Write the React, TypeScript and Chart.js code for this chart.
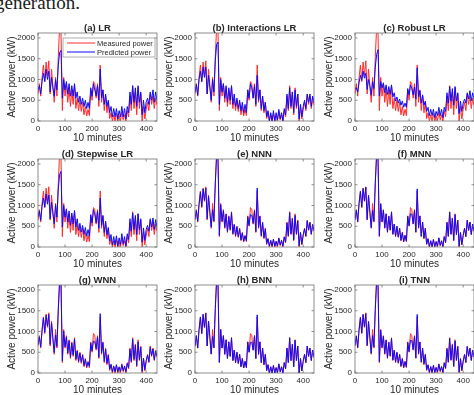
import React, { useEffect, useRef } from "react";
import { Chart, registerables } from "chart.js";

Chart.register(...registerables);

// ---------- data (10-minute index, sampled every 5 steps) ----------
const minutes = [
  0, 5, 10, 15, 20, 25, 30, 35, 40, 45,
  50, 55, 60, 65, 70, 75, 80, 85, 90, 95,
  100, 105, 110, 115, 120, 125, 130, 135, 140, 145,
  150, 155, 160, 165, 170, 175, 180, 185, 190, 195,
  200, 205, 210, 215, 220, 225, 230, 235, 240, 245,
  250, 255, 260, 265, 270, 275, 280, 285, 290, 295,
  300, 305, 310, 315, 320, 325, 330, 335, 340, 345,
  350, 355, 360, 365, 370, 375, 380, 385, 390, 395,
  400, 405, 410, 415, 420, 425, 430, 435, 440,
];

const measuredPower = [
  650, 900, 600, 1050, 1350, 950, 1420, 1100, 1450, 650,
  1250, 850, 450, 1050, 600, 1550, 2250, 2200, 250, 1050,
  600, 900, 450, 800, 350, 750, 400, 850, 300, 550,
  250, 500, 230, 450, 150, 350, 120, 280, 130, 750,
  500, 950, 900, 550, 900, 350, 1350, 450, 750, 250,
  600, 200, 450, 60, 200, 0, 150, 0, 180, 0,
  130, 10, 220, 30, 150, 0, 250, 100, 600, 250,
  850, 300, 700, 150, 800, 300, 650, 0, 350, 50,
  280, 450, 250, 650, 400, 600, 300, 550, 380,
];

const predLR = [
  750, 850, 650, 950, 1150, 950, 1250, 1000, 1200, 700,
  1050, 800, 600, 1000, 750, 1350, 1650, 1700, 550, 1000,
  750, 950, 650, 900, 600, 850, 600, 900, 550, 700,
  450, 600, 400, 550, 350, 500, 300, 450, 300, 800,
  600, 900, 750, 600, 850, 500, 1250, 550, 750, 400,
  650, 350, 500, 200, 350, 100, 300, 100, 300, 50,
  250, 100, 350, 100, 300, 50, 350, 200, 700, 400,
  850, 450, 800, 350, 850, 450, 700, 150, 500, 200,
  450, 550, 400, 700, 500, 750, 450, 700, 500,
];

const predInteractionsLR = [
  700, 880, 620, 1000, 1200, 950, 1300, 1050, 1300, 650,
  1100, 800, 500, 1000, 700, 1450, 1850, 1900, 400, 1000,
  700, 900, 550, 850, 450, 800, 500, 850, 400, 650,
  350, 550, 300, 500, 250, 450, 200, 400, 200, 750,
  550, 900, 800, 550, 850, 400, 1100, 500, 750, 300,
  600, 250, 450, 100, 250, 0, 200, 0, 250, 0,
  200, 30, 280, 50, 200, 0, 300, 150, 650, 300,
  800, 350, 700, 200, 750, 350, 650, 50, 400, 100,
  350, 500, 300, 650, 450, 650, 350, 600, 450,
];

const predRobustLR = [
  780, 800, 700, 920, 1100, 980, 1200, 1030, 1150, 760,
  1000, 850, 620, 950, 780, 1300, 1600, 1720, 600, 950,
  800, 920, 680, 870, 640, 830, 640, 870, 580, 680,
  480, 580, 430, 530, 380, 480, 330, 430, 330, 780,
  630, 870, 780, 630, 820, 530, 1280, 580, 730, 430,
  630, 380, 480, 230, 330, 130, 280, 130, 280, 80,
  230, 130, 330, 130, 280, 80, 330, 230, 680, 430,
  830, 480, 780, 380, 830, 480, 680, 180, 480, 230,
  430, 530, 430, 680, 530, 730, 480, 680, 530,
];

const predStepwiseLR = [
  720, 870, 640, 980, 1180, 960, 1280, 1030, 1250, 680,
  1080, 820, 560, 1020, 720, 1400, 1750, 1820, 480, 1000,
  720, 920, 600, 870, 520, 820, 560, 880, 480, 680,
  400, 570, 360, 520, 300, 470, 260, 420, 260, 780,
  580, 900, 780, 580, 860, 450, 1180, 520, 760, 350,
  620, 300, 470, 150, 300, 50, 250, 50, 270, 20,
  220, 60, 320, 80, 250, 20, 320, 180, 680, 380,
  820, 420, 760, 300, 800, 420, 680, 120, 460, 160,
  420, 520, 380, 680, 480, 700, 420, 660, 480,
];

const predNNN = [
  670, 880, 620, 1020, 1320, 970, 1400, 1120, 1420, 680,
  1220, 830, 480, 900, 630, 1520, 2230, 2180, 280, 1020,
  620, 880, 470, 790, 370, 730, 420, 830, 320, 540,
  270, 490, 250, 440, 170, 340, 140, 270, 150, 730,
  520, 780, 760, 570, 880, 370, 1420, 470, 740, 270,
  590, 220, 440, 80, 200, 20, 160, 20, 190, 20,
  140, 30, 210, 50, 160, 20, 240, 120, 580, 270,
  830, 320, 680, 170, 760, 310, 630, 30, 350, 70,
  290, 440, 260, 630, 410, 590, 310, 540, 390,
];

const predMNN = [
  660, 890, 610, 1040, 1340, 960, 1410, 1110, 1440, 660,
  1240, 840, 470, 880, 620, 1540, 2240, 2190, 270, 1040,
  610, 890, 460, 800, 360, 740, 410, 840, 310, 550,
  260, 500, 240, 450, 160, 350, 130, 280, 140, 740,
  510, 800, 790, 560, 890, 360, 1400, 460, 750, 260,
  600, 210, 450, 70, 200, 10, 150, 10, 180, 10,
  130, 20, 220, 40, 150, 10, 250, 110, 590, 260,
  840, 310, 690, 160, 780, 300, 640, 20, 350, 60,
  280, 450, 250, 640, 400, 600, 300, 550, 380,
];

const predWNN = [
  680, 870, 630, 1010, 1330, 980, 1390, 1130, 1410, 690,
  1210, 820, 490, 920, 640, 1510, 2220, 2200, 290, 1010,
  630, 870, 480, 780, 380, 720, 430, 820, 330, 530,
  280, 480, 260, 430, 180, 330, 150, 260, 160, 720,
  530, 770, 750, 580, 870, 380, 1430, 480, 730, 280,
  580, 230, 430, 90, 210, 30, 170, 30, 200, 30,
  150, 40, 200, 60, 170, 30, 230, 130, 570, 280,
  820, 330, 670, 180, 750, 320, 620, 40, 360, 80,
  300, 430, 270, 620, 420, 580, 320, 530, 400,
];

const predBNN = [
  640, 900, 600, 1040, 1350, 950, 1410, 1100, 1440, 650,
  1250, 850, 460, 880, 610, 1550, 2250, 2200, 260, 1050,
  600, 900, 450, 800, 350, 750, 400, 850, 300, 550,
  250, 500, 230, 450, 150, 350, 120, 280, 130, 750,
  500, 740, 740, 550, 900, 350, 1400, 450, 750, 250,
  600, 200, 450, 60, 200, 0, 150, 0, 180, 0,
  130, 10, 220, 30, 150, 0, 250, 100, 600, 250,
  850, 300, 690, 150, 790, 300, 650, 0, 350, 50,
  280, 450, 250, 650, 400, 600, 300, 550, 380,
];

const predTNN = [
  665, 885, 615, 1030, 1335, 965, 1405, 1115, 1430, 665,
  1235, 835, 475, 900, 625, 1530, 2235, 2190, 275, 1035,
  615, 885, 465, 795, 365, 735, 415, 835, 315, 545,
  265, 495, 245, 445, 165, 345, 135, 275, 145, 735,
  515, 790, 780, 565, 885, 365, 1410, 465, 745, 265,
  595, 215, 445, 75, 195, 15, 155, 15, 185, 15,
  135, 25, 215, 45, 155, 15, 245, 115, 585, 265,
  835, 315, 680, 165, 770, 305, 635, 25, 345, 65,
  285, 445, 255, 635, 405, 595, 305, 545, 385,
];

const panelTitles = [
  "(a) LR", "(b) Interactions LR", "(c) Robust LR",
  "(d) Stepwise LR", "(e) NNN", "(f) MNN",
  "(g) WNN", "(h) BNN", "(i) TNN",
];
const panelPredictions = [
  predLR, predInteractionsLR, predRobustLR,
  predStepwiseLR, predNNN, predMNN,
  predWNN, predBNN, predTNN,
];

const xTickValues = [0, 100, 200, 300, 400];
const yTickValues = [0, 500, 1000, 1500, 2000];
const X_MAX = 440;
const Y_MAX = 2120;

const seriesNames = ["Measured power", "Predicted power"];
const xAxisLabel = "10 minutes";
const yAxisLabel = "Active power (kW)";

// ---------- layout / style ----------
const COL_LEFT = [38, 195, 355];
const ROW_TOP = [33, 159, 285];
const PLOT_W = 119;
const PLOT_H = 88;
const Y_AXIS_W = 38;
const TOP_SPACE = 16;
const X_AXIS_H = 23;
const RIGHT_PAD = 2;
const CANVAS_W = Y_AXIS_W + PLOT_W + RIGHT_PAD;
const CANVAS_H = TOP_SPACE + PLOT_H + X_AXIS_H;

const FONT = "'Liberation Sans', Arial, Helvetica, sans-serif";
const TEXT = "#262626";
const RED = "#ff2a2a";
const BLUE = "#0a0aff";
const FRAME = "#707070";

const framePlugin = {
  id: "frame",
  afterDatasetsDraw(chart: any) {
    const { ctx, chartArea: a, scales } = chart;
    ctx.save();
    ctx.strokeStyle = FRAME;
    ctx.lineWidth = 0.8;
    ctx.strokeRect(a.left, a.top, a.right - a.left, a.bottom - a.top);
    const tl = 2.5;
    ctx.beginPath();
    for (const v of xTickValues) {
      const x = scales.x.getPixelForValue(v);
      ctx.moveTo(x, a.bottom);
      ctx.lineTo(x, a.bottom - tl);
      ctx.moveTo(x, a.top);
      ctx.lineTo(x, a.top + tl);
    }
    for (const v of yTickValues) {
      const y = scales.y.getPixelForValue(v);
      ctx.moveTo(a.left, y);
      ctx.lineTo(a.left + tl, y);
      ctx.moveTo(a.right, y);
      ctx.lineTo(a.right - tl, y);
    }
    ctx.stroke();
    ctx.restore();
  },
};

// panel title centred over the plot area (as MATLAB does)
const panelTitlePlugin = {
  id: "panelTitle",
  afterDraw(chart: any, _args: any, opts: any) {
    if (!opts || !opts.text) return;
    const { ctx, chartArea: a } = chart;
    ctx.save();
    ctx.font = `bold 9.5px ${FONT}`;
    ctx.fillStyle = TEXT;
    ctx.textAlign = "center";
    ctx.textBaseline = "middle";
    ctx.fillText(opts.text, (a.left + a.right) / 2, a.top - 5);
    ctx.restore();
  },
};

const legendBoxPlugin = {
  id: "legendBox",
  afterDraw(chart: any, _args: any, opts: any) {
    if (!opts || !opts.show) return;
    const { ctx, chartArea: a } = chart;
    const x0 = a.left + 25;
    const x1 = a.right - 2;
    const y0 = a.top + 5;
    const y1 = a.top + 24;
    ctx.save();
    ctx.fillStyle = "#ffffff";
    ctx.fillRect(x0, y0, x1 - x0, y1 - y0);
    ctx.strokeStyle = "#9a9a9a";
    ctx.lineWidth = 0.8;
    ctx.strokeRect(x0, y0, x1 - x0, y1 - y0);
    const rows = [
      { y: a.top + 10, color: RED, text: seriesNames[0] },
      { y: a.top + 19, color: BLUE, text: seriesNames[1] },
    ];
    ctx.font = `7.5px ${FONT}`;
    ctx.textBaseline = "middle";
    ctx.textAlign = "left";
    for (const r of rows) {
      ctx.strokeStyle = r.color;
      ctx.lineWidth = 1;
      ctx.beginPath();
      ctx.moveTo(a.left + 29, r.y);
      ctx.lineTo(a.left + 57, r.y);
      ctx.stroke();
      ctx.fillStyle = TEXT;
      ctx.fillText(r.text, a.left + 59, r.y + 0.5);
    }
    ctx.restore();
  },
};

function Panel({ index }: { index: number }) {
  const ref = useRef<HTMLCanvasElement>(null);
  useEffect(() => {
    if (!ref.current) return;
    const pred = panelPredictions[index];
    const chart = new Chart(ref.current, {
      type: "line",
      data: {
        datasets: [
          {
            label: seriesNames[0],
            data: minutes.map((t, i) => ({ x: t, y: measuredPower[i] })),
            borderColor: RED,
            borderWidth: 1,
            pointRadius: 0,
            tension: 0,
            order: 2,
          },
          {
            label: seriesNames[1],
            data: minutes.map((t, i) => ({ x: t, y: pred[i] })),
            borderColor: BLUE,
            borderWidth: 1,
            pointRadius: 0,
            tension: 0,
            order: 1,
          },
        ],
      },
      options: {
        responsive: false,
        animation: false,
        devicePixelRatio: 1,
        events: [],
        layout: { padding: { left: 0, right: RIGHT_PAD, top: TOP_SPACE, bottom: 0 } },
        plugins: {
          legend: { display: false },
          tooltip: { enabled: false },
          title: { display: false },
          panelTitle: { text: panelTitles[index] },
          legendBox: { show: index === 0 },
        } as any,
        scales: {
          x: {
            type: "linear",
            min: 0,
            max: X_MAX,
            afterBuildTicks: (s: any) => {
              s.ticks = xTickValues.map((v) => ({ value: v }));
            },
            afterFit: (s: any) => {
              s.height = X_AXIS_H;
            },
            grid: { display: false, drawTicks: false },
            border: { display: false },
            ticks: {
              color: TEXT,
              font: { family: FONT, size: 8 },
              padding: 3,
              maxRotation: 0,
              autoSkip: false,
              callback: (v: any) => String(v),
            },
            title: {
              display: true,
              text: xAxisLabel,
              color: TEXT,
              font: { family: FONT, size: 10, lineHeight: 1.2 },
              padding: { top: 0, bottom: 0 },
            },
          },
          y: {
            type: "linear",
            min: 0,
            max: Y_MAX,
            afterBuildTicks: (s: any) => {
              s.ticks = yTickValues.map((v) => ({ value: v }));
            },
            afterFit: (s: any) => {
              s.width = Y_AXIS_W;
            },
            grid: { display: false, drawTicks: false },
            border: { display: false },
            ticks: {
              color: TEXT,
              font: { family: FONT, size: 8 },
              padding: 3,
              autoSkip: false,
              callback: (v: any) => String(v),
            },
            title: {
              display: true,
              text: yAxisLabel,
              color: TEXT,
              font: { family: FONT, size: 10, lineHeight: 1.2 },
              padding: { top: 6, bottom: 0 },
            },
          },
        },
      } as any,
      plugins: [framePlugin, panelTitlePlugin, legendBoxPlugin],
    });
    return () => chart.destroy();
  }, [index]);

  const col = index % 3;
  const row = Math.floor(index / 3);
  return (
    <canvas
      ref={ref}
      width={CANVAS_W}
      height={CANVAS_H}
      style={{
        position: "absolute",
        left: COL_LEFT[col] - Y_AXIS_W,
        top: ROW_TOP[row] - TOP_SPACE,
        width: CANVAS_W,
        height: CANVAS_H,
      }}
    />
  );
}

export default function App() {
  return (
    <div
      style={{
        position: "absolute",
        left: 0,
        top: 0,
        width: 474,
        height: 395,
        overflow: "hidden",
        background: "#ffffff",
      }}
    >
      <div
        style={{
          position: "absolute",
          left: -5,
          top: -7,
          fontFamily: "'Liberation Serif', 'Times New Roman', serif",
          fontSize: 19,
          lineHeight: "20px",
          color: "#1a1a1a",
          whiteSpace: "nowrap",
        }}
      >
        generation.
      </div>
      {panelTitles.map((_, i) => (
        <Panel key={i} index={i} />
      ))}
    </div>
  );
}
